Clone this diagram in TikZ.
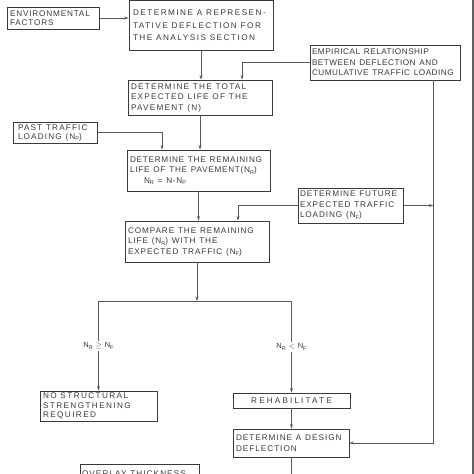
\documentclass[tikz,border=0pt]{standalone}
\usepackage{fontspec}
\setmainfont{Liberation Sans}[LetterSpace=10]
\usepackage{tikz}
\usetikzlibrary{arrows.meta, positioning}
\definecolor{ink}{HTML}{3A3A3A}
\newcommand{\lsub}[1]{\raisebox{-0.35ex}{\fontsize{5.5}{5.5}\selectfont #1}}
% lettering: [leading]{letter spacing}
\newcommand{\lettering}[2][10.5]{\fontsize{8.2}{#1}\selectfont\addfontfeatures{LetterSpace=#2}}

\begin{document}
\begin{tikzpicture}[x=1pt,y=-1pt,
  box/.style={draw=ink, line width=0.9pt, text=ink, font={\lettering{10}}, align=left, inner xsep=3pt, inner ysep=0pt,
    execute at begin node={\spaceskip=3.8pt plus 1pt\relax}},
  flow/.style={draw=ink!85, line width=0.6pt, -{Stealth[length=4.5pt,width=3pt]}},
  wire/.style={draw=ink!85, line width=0.6pt},
  cond/.style={fill=white, text=ink, font=\fontsize{7.5}{8}\selectfont, inner sep=2pt}]
\useasboundingbox (0,0) rectangle (474,474);
\clip (0,0) rectangle (474,474);
\fill[white] (0,0) rectangle (474,474);
\fill[ink!80] (472,0) rectangle (474,474);
% upper part
\node[box, text width=86pt, minimum height=22pt, font={\lettering[9]{10}}] (env) at (53,18) {ENVIRONMENTAL\\FACTORS};
\node[box, text width=136pt, inner xsep=4pt, minimum height=50pt, font={\lettering[12.5]{18}}] (rep) at (201,25.5) {DETERMINE A REPRESEN-\\TATIVE DEFLECTION FOR\\THE ANALYSIS SECTION};
\node[box, text width=146pt, minimum height=35pt, inner xsep=2pt, font={\lettering{6}}] (emp) at (385,62.5) {EMPIRICAL RELATIONSHIP\\BETWEEN DEFLECTION AND\\CUMULATIVE TRAFFIC LOADING};
\node[box, text width=138pt, minimum height=35pt, font={\lettering{15}}] (total) at (200,97.5) {DETERMINE THE TOTAL\\EXPECTED LIFE OF THE\\PAVEMENT (N)};
\node[box, text width=74pt, minimum height=21pt, inner xsep=5pt, font={\lettering[9]{14}}] (past) at (55,132.5) {PAST TRAFFIC\\LOADING (N\lsub{P})};
\node[box, text width=137pt, minimum height=41pt, font={\lettering{9}}] (remain) at (198.5,170.5) {DETERMINE THE REMAINING\\LIFE OF THE PAVEMENT(N\lsub{R})\\\hspace*{14pt}N\lsub{R} = N-N\lsub{P}};
\node[box, text width=101pt, minimum height=35pt, inner xsep=2pt, font={\lettering{11}}] (future) at (350.5,205.5) {DETERMINE FUTURE\\EXPECTED TRAFFIC\\LOADING (N\lsub{F})};
\node[box, text width=138pt, minimum height=41pt, font={\lettering{11}}] (compare) at (197,241.5) {COMPARE THE REMAINING\\LIFE (N\lsub{R}) WITH THE\\EXPECTED TRAFFIC (N\lsub{F})};
% lower part
\node[box, text width=111pt, minimum height=30pt, font={\lettering[9.5]{17}}] (nostruct) at (98.5,406) {NO STRUCTURAL\\STRENGTHENING\\REQUIRED};
\node[box, align=center, minimum width=117pt, minimum height=15pt, font={\lettering{26}}] (rehab) at (291.5,400.5) {REHABILITATE};
\node[box, text width=110pt, minimum height=28pt, font={\lettering{12}}] (design) at (291,443) {DETERMINE A DESIGN\\DEFLECTION};
\node[box, anchor=north, text width=115pt, inner xsep=2pt, inner ysep=6pt, font={\lettering{13}}] (overlay) at (139.5,464) {OVERLAY THICKNESS};
% connectors
\coordinate (rline) at ([xshift=-27pt]emp.south east);
\coordinate (fork) at (197,301);
\draw[flow] (env.east) -- (env.east -| rep.west);
\draw[flow] (rep.south) -- (rep.south |- total.north);
\draw[flow] (emp.west) -| ([xshift=42pt]total.north);
\draw[flow] (rline) |- (design.east);
\draw[flow] (total.south) -- (total.south |- remain.north);
\draw[flow] (past.east) -| ([xshift=-36.5pt]remain.north);
\draw[flow] (remain.south) -- (remain.south |- compare.north);
\draw[flow] (future.west) -| ([xshift=41pt]compare.north);
\draw[flow] (future.east) -- (future.east -| rline);
\draw[flow] (compare.south) -- (fork);
\draw[flow] (fork) -| node[cond, pos=0.75] {N\lsub{R} $\geq$ N\lsub{F}} (nostruct.north);
\draw[flow] (fork) -| node[cond, pos=0.75] {N\lsub{R} $<$ N\lsub{F}} (rehab.north);
\draw[flow] (rehab.south) -- (rehab.south |- design.north);
\draw[wire] (design.south) -- ++(0,30);
\end{tikzpicture}
\end{document}
